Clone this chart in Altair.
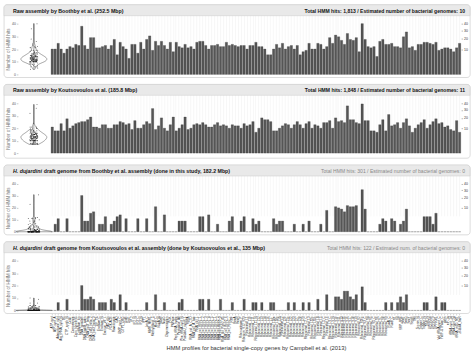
import altair as alt
import pandas as pd

GENES = [
    "ATP-synt", "ATP-synt_A", "Adenylsucc_synt", "Arg_tRNA_synt_N", "B5", "CTP_synth_N", "CoaE", "Competence", "Cons_hypoth95", "Cytidylate_kin",
    "DNA_gyraseB", "DNA_ligase_aden", "DNA_pol3_beta", "DNA_pol3_beta_2", "DNA_pol3_beta_3", "EF_TS", "Enolase_C", "Enolase_N", "Exonuc_VII_L", "FAD_syn",
    "FDX-ACB", "Flavokinase", "GAD", "GMP_synt_C", "GTP1_OBG", "GidB", "GrpE", "IF-2", "IF2_N", "IF3_C",
    "IF3_N", "IPPT", "LepA_C", "MMR_HSR1", "Methyltransf_5", "MurB_C", "NusA_N", "NusB", "NusG", "Oligomerisation",
    "PGK", "PNPase", "Pept_tRNA_hydro", "Peptidase_A8", "Phe_tRNA-synt_N", "PseudoU_synth_1", "RBFA", "RNA_pol_A_CTD", "RNA_pol_A_bac", "RNA_pol_L",
    "RNA_pol_Rpb1_1", "RNA_pol_Rpb1_2", "RNA_pol_Rpb1_3", "RNA_pol_Rpb1_4", "RNA_pol_Rpb1_5", "RNA_pol_Rpb2_1", "RNA_pol_Rpb2_2", "RNA_pol_Rpb2_3", "RNA_pol_Rpb2_45", "RNA_pol_Rpb2_6",
    "RNA_pol_Rpb2_7", "RRF", "RecA", "RecR", "Ribonuclease_P", "Ribosom_S12_S23", "Ribosomal_L1", "Ribosomal_L10", "Ribosomal_L11", "Ribosomal_L11_N",
    "Ribosomal_L12", "Ribosomal_L13", "Ribosomal_L14", "Ribosomal_L16", "Ribosomal_L17", "Ribosomal_L18e", "Ribosomal_L18p", "Ribosomal_L19", "Ribosomal_L2", "Ribosomal_L20",
    "Ribosomal_L21p", "Ribosomal_L22", "Ribosomal_L23", "Ribosomal_L27", "Ribosomal_L28", "Ribosomal_L29", "Ribosomal_L2_C", "Ribosomal_L3", "Ribosomal_L32p", "Ribosomal_L35p",
    "Ribosomal_L4", "Ribosomal_L5", "Ribosomal_L5_C", "Ribosomal_L6", "Ribosomal_L9_C", "Ribosomal_L9_N", "Ribosomal_S10", "Ribosomal_S11", "Ribosomal_S13", "Ribosomal_S15",
    "Ribosomal_S16", "Ribosomal_S17", "Ribosomal_S18", "Ribosomal_S19", "Ribosomal_S2", "Ribosomal_S20p", "Ribosomal_S3_C", "Ribosomal_S4", "Ribosomal_S5", "Ribosomal_S5_C",
    "Ribosomal_S6", "Ribosomal_S7", "Ribosomal_S8", "Ribosomal_S9", "RuvA_C", "RuvB_C", "S1", "S4", "SRP_SPB", "SecE",
    "SecG", "SecY", "SmpB", "TIM", "Toprim_N", "Trigger_C", "Trigger_N", "TruB_N", "UPF0054", "UPF0079",
    "UPF0081", "Val_tRNA-synt_C", "YchF-GTPase_C", "dsrm", "eIF-1a", "tRNA-synt_1d", "tRNA-synt_2d", "tRNA_m1G_MT", "zf-dskA_traR",
]

RAW_BOOTHBY = [
    10, 10, 15, 10, 7, 10, 12, 11, 14, 13,
    36, 13, 10, 21, 21, 11, 11, 12, 13, 10,
    13, 19, 6, 16, 12, 10, 4, 14, 14, 7,
    16, 10, 19, 23, 9, 17, 13, 17, 13, 10,
    16, 8, 16, 12, 11, 14, 11, 12, 10, 16,
    17, 17, 13, 10, 13, 13, 14, 12, 12, 16,
    13, 14, 13, 12, 13, 13, 10, 13, 13, 16,
    12, 12, 10, 6, 6, 10, 14, 11, 15, 10,
    12, 13, 10, 13, 6, 8, 9, 15, 10, 10,
    15, 14, 10, 12, 21, 15, 24, 22, 18, 14,
    26, 19, 18, 21, 8, 40, 19, 12, 11, 12,
    5, 17, 19, 14, 14, 15, 12, 12, 11, 22,
    28, 11, 12, 9, 14, 14, 16, 16, 15, 14,
    16, 9, 10, 11, 11, 10, 8, 11, 15,
]

RAW_KOUTSOVOULOS = [
    11, 8, 8, 14, 8, 19, 10, 12, 14, 15,
    16, 16, 18, 21, 11, 11, 10, 13, 13, 10,
    10, 13, 13, 16, 15, 13, 14, 9, 17, 10,
    10, 13, 16, 14, 32, 9, 12, 20, 10, 8,
    13, 21, 8, 10, 13, 21, 9, 10, 13, 14,
    13, 15, 13, 11, 11, 13, 15, 12, 13, 12,
    10, 13, 12, 12, 10, 14, 12, 13, 16, 7,
    10, 20, 18, 18, 16, 8, 8, 10, 12, 14,
    13, 10, 13, 16, 13, 10, 14, 16, 10, 13,
    12, 10, 15, 15, 17, 10, 20, 16, 17, 15,
    36, 18, 18, 15, 14, 39, 17, 17, 8, 8,
    7, 13, 18, 8, 24, 12, 13, 15, 10, 15,
    19, 12, 7, 10, 13, 15, 18, 10, 13, 16,
    19, 14, 15, 11, 12, 9, 8, 17, 7,
]

DRAFT_BOOTHBY = [
    0, 1, 3, 0, 0, 3, 0, 0, 0, 0,
    23, 2, 2, 6, 7, 0, 1, 1, 4, 0,
    1, 2, 4, 5, 0, 3, 0, 0, 0, 3,
    0, 0, 3, 0, 0, 11, 0, 0, 5, 0,
    0, 0, 0, 2, 2, 2, 0, 0, 0, 0,
    4, 4, 0, 5, 0, 0, 1, 0, 0, 0,
    2, 4, 0, 0, 2, 4, 0, 0, 3, 1,
    2, 0, 0, 0, 0, 3, 1, 2, 2, 0,
    0, 0, 1, 0, 0, 1, 0, 2, 0, 0,
    0, 1, 0, 8, 0, 0, 11, 10, 9, 7,
    12, 11, 11, 12, 0, 31, 9, 0, 0, 0,
    0, 1, 3, 2, 0, 3, 2, 0, 1, 2,
    9, 0, 0, 0, 0, 0, 4, 4, 4, 1,
    6, 0, 0, 0, 0, 0, 0, 0, 0,
]

DRAFT_KOUTSOVOULOS = [
    0, 0, 1, 0, 0, 2, 0, 0, 0, 0,
    10, 2, 2, 3, 2, 0, 1, 1, 1, 0,
    2, 1, 0, 4, 0, 1, 0, 0, 0, 0,
    0, 0, 1, 0, 0, 4, 0, 0, 1, 0,
    0, 0, 0, 1, 2, 0, 0, 0, 0, 0,
    2, 2, 0, 2, 0, 0, 0, 2, 0, 0,
    0, 1, 0, 0, 0, 2, 0, 0, 1, 1,
    0, 1, 0, 0, 1, 1, 0, 0, 0, 0,
    1, 0, 1, 0, 0, 1, 0, 1, 0, 0,
    2, 0, 0, 4, 0, 0, 3, 3, 2, 6,
    6, 3, 2, 4, 0, 9, 1, 0, 0, 0,
    0, 0, 0, 1, 0, 1, 0, 1, 3, 1,
    4, 0, 0, 0, 0, 0, 1, 1, 0, 0,
    3, 0, 1, 1, 0, 0, 0, 0, 0,
]

SERIES = [RAW_BOOTHBY, RAW_KOUTSOVOULOS, DRAFT_BOOTHBY, DRAFT_KOUTSOVOULOS]
ITALIC_PART = ["", "", "H. dujardini", "H. dujardini"]
TITLE_PART = [
    "Raw assembly by Boothby et al. (252.5 Mbp)",
    "Raw assembly by Koutsovoulos et al. (185.8 Mbp)",
    "draft genome from Boothby et al. assembly (done in this study, 182.2 Mbp)",
    "draft genome from Koutsovoulos et al. assembly (done by Koutsovoulos et al., 135 Mbp)",
]
STATS = [
    "Total HMM hits: 1,813 / Estimated number of bacterial genomes: 10",
    "Total HMM hits: 1,848 / Estimated number of bacterial genomes: 11",
    "Total HMM hits: 301 / Estimated number of bacterial genomes: 0",
    "Total HMM hits: 122 / Estimated num. of bacterial genomes: 0",
]
STATS_STYLE = [("#111111", "bold"), ("#111111", "bold"), ("#888888", "normal"), ("#888888", "normal")]
Y_TICKS = [0, 10, 20, 30, 40]
BAR_TICKS = [10, 20, 30, 40]
X_TITLE = "HMM profiles for bacterial single-copy genes by Campbell et al. (2013)"

FONT = "Liberation Sans"
W = 468
PANEL_H = [73, 74, 70, 72]
ZERO_Y = [70, 69, 67, 69]
TOP_Y = 19
HEADER_H = 11
VIOLIN_RANGE = [[17, 43], [17, 43], [12, 48], [12, 48]]
JIT_RANGE = [[26, 34], [26, 34], [24, 36], [24, 36]]
BAR_RANGE = [47, 459]


def panel(k):
    vals = SERIES[k]
    H = PANEL_H[k]
    yr = [ZERO_Y[k], TOP_Y]
    df = pd.DataFrame({"gene": GENES, "hits": vals, "idx": list(range(len(GENES)))})
    one = pd.DataFrame({"t": [TITLE_PART[k]], "it": [ITALIC_PART[k]], "s": [STATS[k]],
                        "lo": [min(vals)], "hi": [max(vals)]})

    header = alt.Chart(one).mark_rect(
        fill="#e9e9e9", stroke="#cdcdcd", strokeWidth=0.5,
        cornerRadiusTopLeft=3, cornerRadiusTopRight=3,
    ).encode(x=alt.value(0), x2=alt.value(W), y=alt.value(0), y2=alt.value(HEADER_H))

    layers = [header]
    tx = 9
    if ITALIC_PART[k]:
        layers.append(alt.Chart(one).mark_text(
            align="left", baseline="middle", font=FONT, fontSize=5.3,
            fontWeight="bold", fontStyle="italic", color="#111111",
        ).encode(x=alt.value(tx), y=alt.value(6), text="it:N"))
        tx = 40
    layers.append(alt.Chart(one).mark_text(
        align="left", baseline="middle", font=FONT, fontSize=5.3,
        fontWeight="bold", color="#111111",
    ).encode(x=alt.value(tx), y=alt.value(6), text="t:N"))
    col, fw = STATS_STYLE[k]
    layers.append(alt.Chart(one).mark_text(
        align="right", baseline="middle", font=FONT, fontSize=5.1,
        fontWeight=fw, color=col,
    ).encode(x=alt.value(W - 5), y=alt.value(6), text="s:N"))

    last = k == len(SERIES) - 1
    if last:
        xaxis = alt.Axis(
            labels=True, labelAngle=270, labelFontSize=3.0, labelColor="#222222",
            labelLimit=26, labelPadding=1, labelFont=FONT, ticks=True, tickSize=1.5,
            tickColor="#999999", tickWidth=0.4, domain=False, grid=True,
            gridColor="#efefef", gridWidth=0.5, title=X_TITLE, titleFont=FONT,
            titleFontSize=5.8, titleFontWeight="normal", titleColor="#333333",
            titlePadding=3,
        )
    else:
        xaxis = alt.Axis(labels=False, ticks=False, domain=False, grid=True,
                         gridColor="#efefef", gridWidth=0.5, title=None)

    bars = alt.Chart(df).mark_bar(color="#555555", stroke="#333333", strokeWidth=0.25).encode(
        x=alt.X("gene:N", sort=GENES,
                scale=alt.Scale(range=BAR_RANGE, paddingInner=0.2, paddingOuter=0.1),
                axis=xaxis),
        y=alt.Y("hits:Q",
                scale=alt.Scale(type="sqrt", domain=[0, 40], range=yr, nice=False),
                axis=alt.Axis(orient="right", offset=-(W - BAR_RANGE[1]), values=BAR_TICKS,
                              labelFontSize=3.5, labelFont=FONT, labelColor="#333333",
                              tickSize=1.5, tickWidth=0.4, tickColor="#555555",
                              labelPadding=1, domain=False, grid=False, title=None)),
    )

    violin = alt.Chart(df).transform_density(
        "hits", as_=["v", "density"], extent=[min(vals), max(vals)]
    ).transform_calculate(neg="-datum.density").mark_area(
        orient="horizontal", fill="white", stroke="#444444", strokeWidth=0.5,
    ).encode(
        y=alt.Y("v:Q", scale=alt.Scale(domain=[0, 40], range=yr, nice=False, zero=False),
                axis=alt.Axis(orient="left", offset=-14, values=Y_TICKS,
                              labelFontSize=3.5, labelFont=FONT, labelColor="#555555",
                              tickSize=1.5, tickWidth=0.4, tickColor="#777777",
                              labelPadding=1, domain=False, grid=False,
                              title="Number of HMM hits", titleFont=FONT,
                              titleFontSize=4.6, titleFontWeight="normal",
                              titleColor="#777777", titlePadding=1.5)),
        x=alt.X("density:Q", scale=alt.Scale(range=VIOLIN_RANGE[k], nice=False, zero=False),
                axis=None),
        x2="neg:Q",
    )

    whisker = alt.Chart(one).mark_rule(color="#555555", strokeWidth=0.5).encode(
        x=alt.value(30),
        y=alt.Y("lo:Q", scale=alt.Scale(domain=[0, 40], range=yr, nice=False), axis=None),
        y2="hi:Q",
    )

    points = alt.Chart(df).transform_calculate(
        jit="((datum.idx * 0.618034) % 1) * 2 - 1"
    ).mark_circle(size=1.0, color="#111111", opacity=0.7).encode(
        x=alt.X("jit:Q", scale=alt.Scale(domain=[-1, 1], range=JIT_RANGE[k], nice=False, zero=False),
                axis=None),
        y=alt.Y("hits:Q", scale=alt.Scale(domain=[0, 40], range=yr, nice=False), axis=None),
    )

    layers += [bars, violin, whisker, points]
    return alt.layer(*layers).resolve_scale(x="independent", y="independent").properties(
        width=W, height=H,
        view=alt.ViewBackground(fill="white", stroke="#c4c4c4", strokeWidth=0.6, cornerRadius=3),
    )


chart = alt.vconcat(*[panel(k) for k in range(len(SERIES))], spacing=5).properties(
    padding={"left": 3, "right": 3, "top": 3, "bottom": 0},
    background="white",
).configure(font=FONT)

chart.save("out.html", embed_options={"renderer": "svg", "actions": False})
